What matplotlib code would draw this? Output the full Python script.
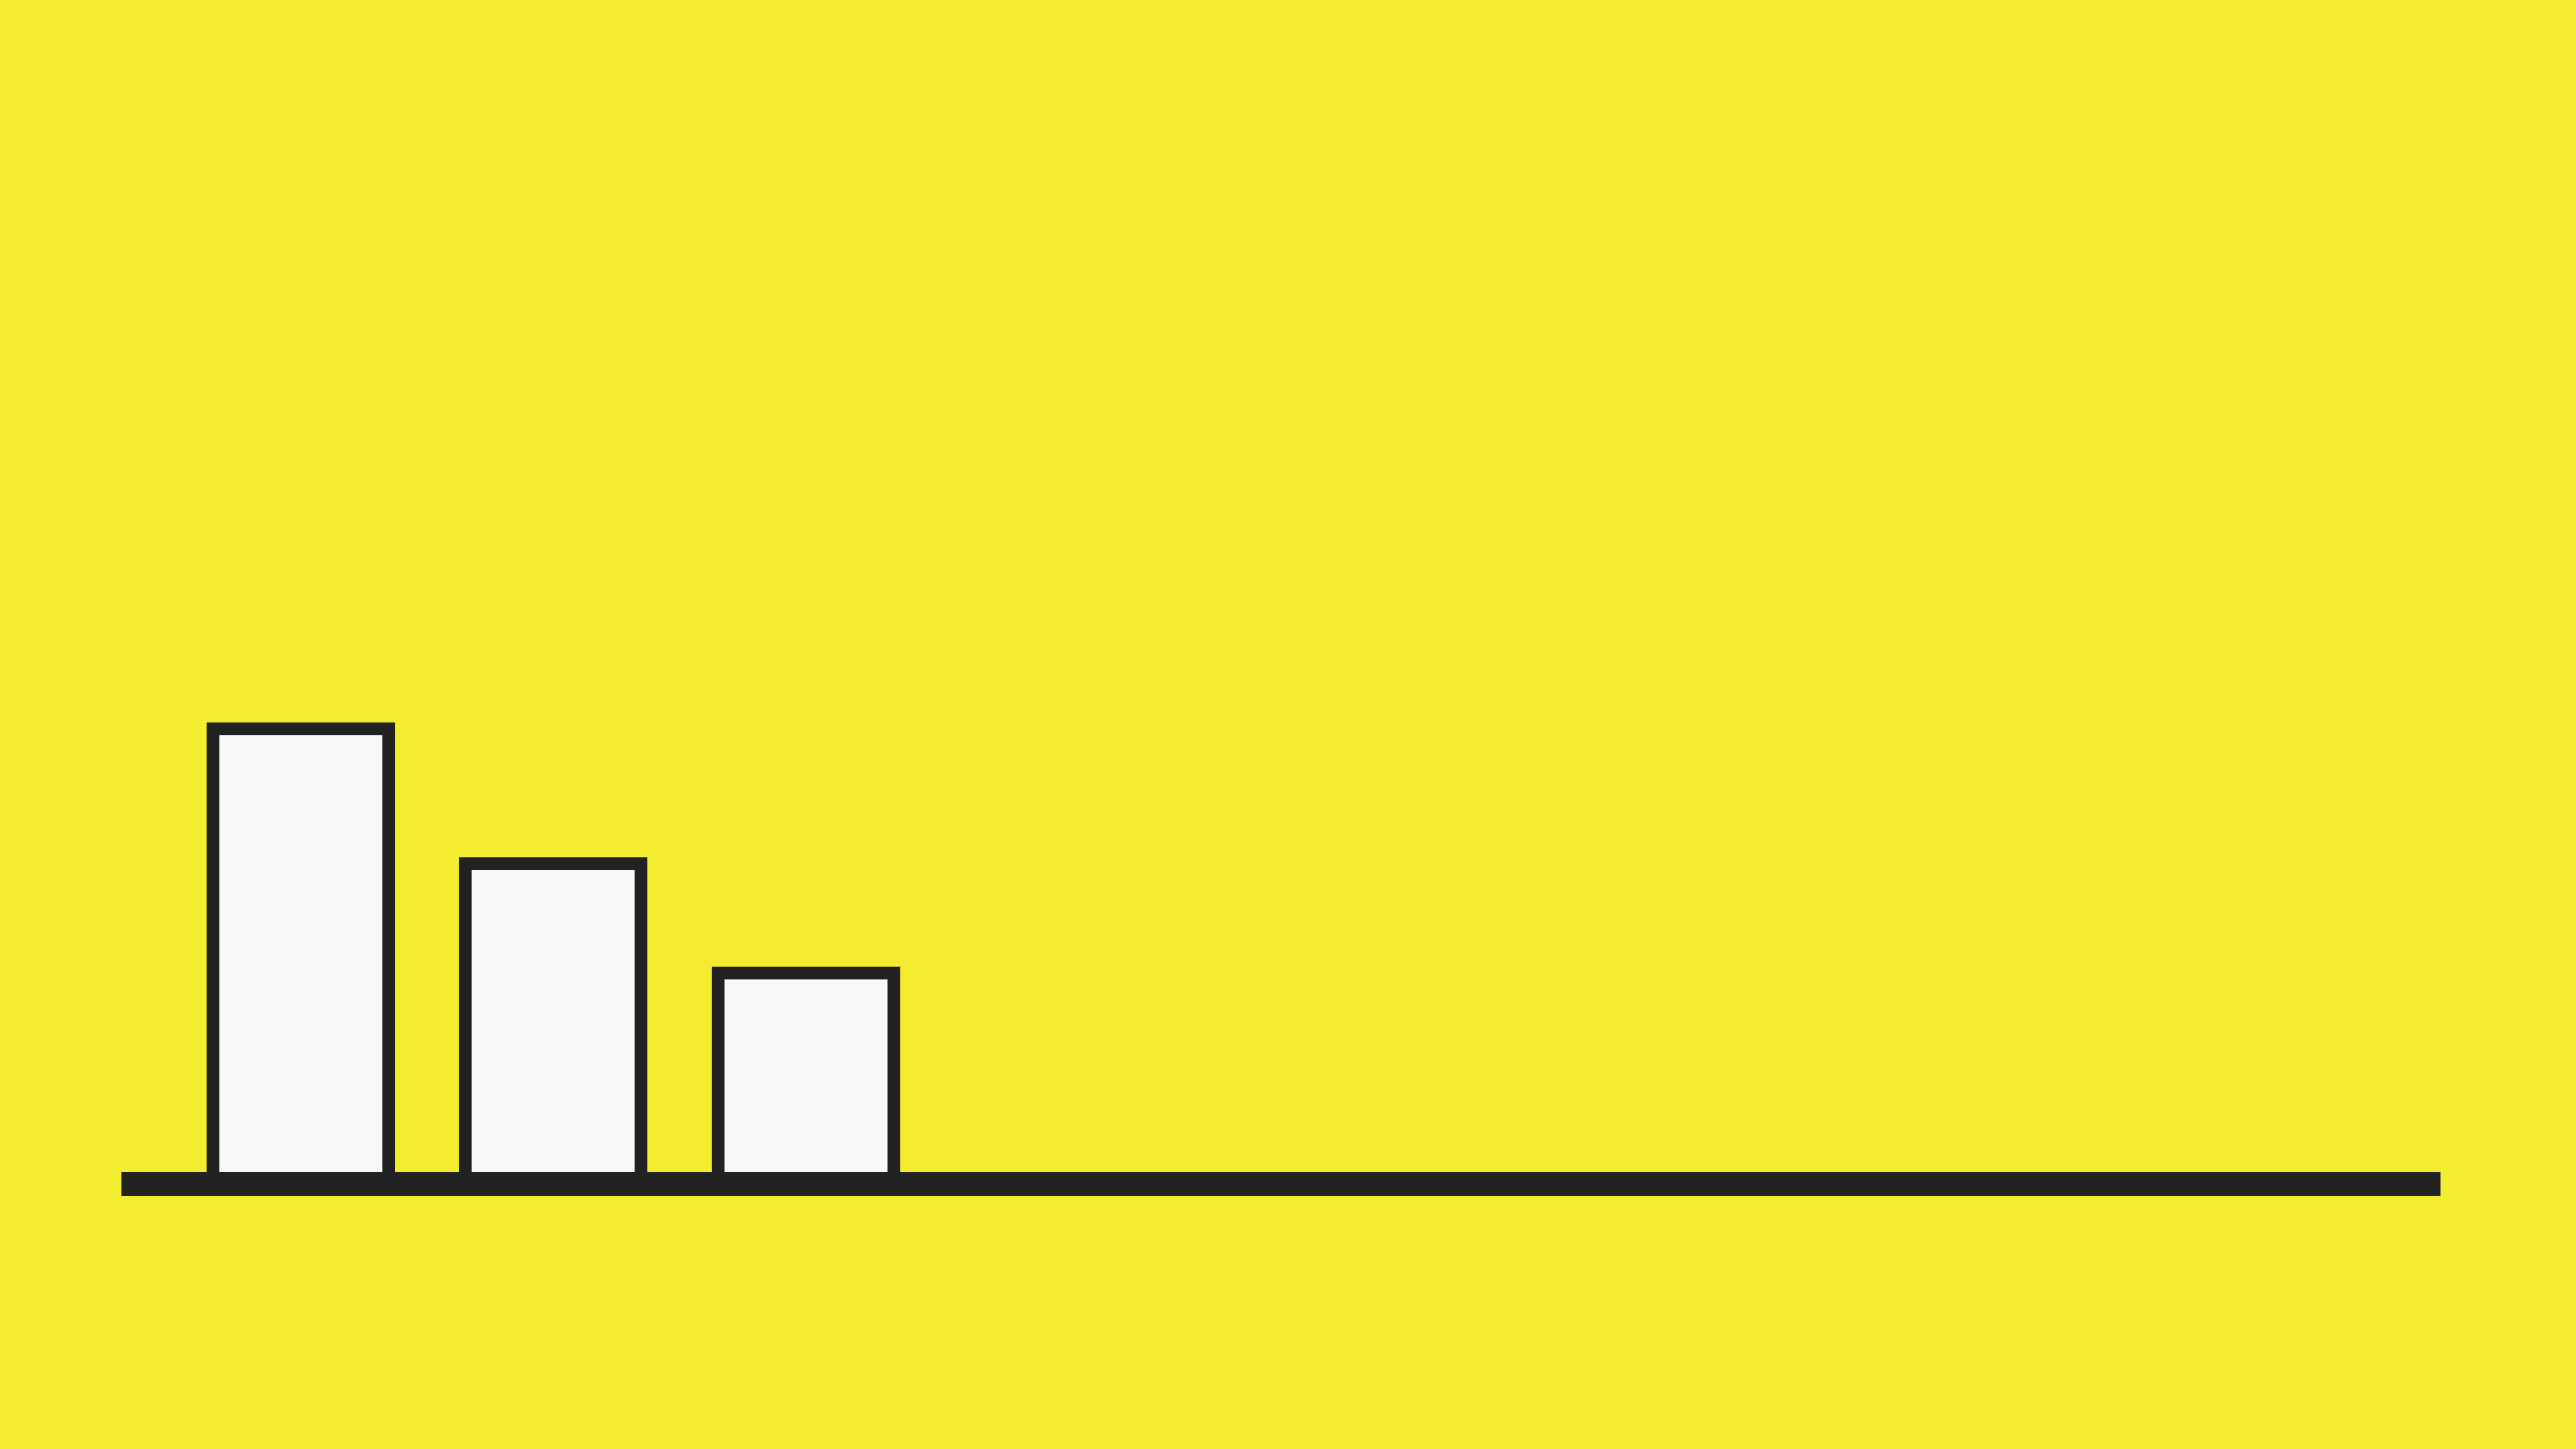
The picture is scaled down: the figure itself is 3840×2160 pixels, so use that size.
import matplotlib
matplotlib.use('Agg')
import matplotlib.pyplot as plt

# values (heights relative to the first bar)
positions = [1, 2, 3]
heights = [100, 70.4, 46.3]

BG = '#F4EC2F'
INK = '#222222'
FILL = '#F8F8F8'

fig = plt.figure(figsize=(38.4, 21.6), dpi=100, facecolor=BG)
ax = fig.add_axes([0, 0, 1, 1])
ax.set_facecolor(BG)

# 376.5 px per slot, 6.795 px per unit
px_x = 376.5
px_y = 6.795
x0 = 1 - 447.5 / px_x
ax.set_xlim(x0, x0 + 3840 / px_x)
ax.set_ylim(-395 / px_y, (2160 - 395) / px_y)

ax.bar(positions, heights, width=262 / px_x, color=FILL, edgecolor=INK,
       linewidth=13.7, zorder=2)
ax.hlines(0, x0 + 181 / px_x, x0 + 3638 / px_x, color=INK, linewidth=25.9,
          zorder=3, capstyle='butt')

ax.axis('off')
fig.savefig('out.png', dpi=100, facecolor=BG)
